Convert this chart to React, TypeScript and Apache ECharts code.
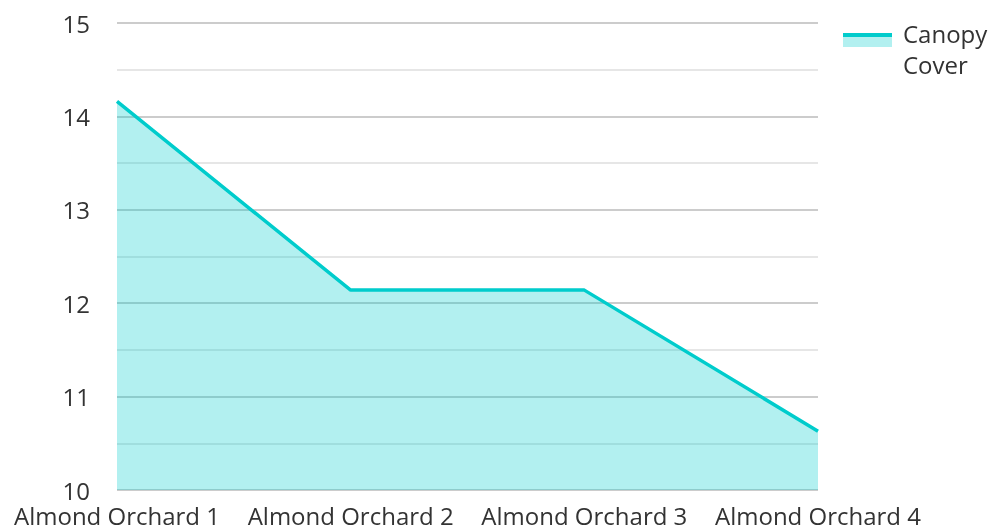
import React, { useEffect, useRef } from "react";
import * as echarts from "echarts";

const categories = ["Almond Orchard 1", "Almond Orchard 2", "Almond Orchard 3", "Almond Orchard 4"];
const canopyCover = [14.16, 12.14, 12.14, 10.63];
const seriesName = "Canopy Cover";
const legendLines = ["Canopy", "Cover"];

const FONT = "'Open Sans', sans-serif";
const TEXT = "#333333";
const LINE = "#00CCCC";
const FS = 24;

export default function App() {
  const ref = useRef<HTMLDivElement>(null);
  useEffect(() => {
    if (!ref.current) return;
    const chart = echarts.init(ref.current, undefined, { renderer: "svg" });
    chart.setOption({
      animation: false,
      textStyle: { fontFamily: FONT },
      grid: { left: 117, right: 174, top: 23, bottom: 41, containLabel: false },
      xAxis: {
        type: "category",
        data: categories,
        boundaryGap: false,
        axisLine: { show: false },
        axisTick: { show: false },
        axisLabel: { color: TEXT, fontSize: FS, fontFamily: FONT, margin: 13, interval: 0 },
      },
      yAxis: {
        type: "value",
        min: 10,
        max: 15,
        interval: 1,
        axisLine: { show: false },
        axisTick: { show: false },
        axisLabel: { color: TEXT, fontSize: FS, lineHeight: 22, fontFamily: FONT, margin: 27 },
        splitLine: { lineStyle: { color: "#cccccc", width: 2 } },
        minorTick: { show: false, splitNumber: 2 },
        minorSplitLine: { show: true, lineStyle: { color: "#e6e6e6", width: 2 } },
      },
      series: [
        {
          name: seriesName,
          type: "line",
          data: canopyCover,
          symbol: "none",
          lineStyle: { color: LINE, width: 3.5 },
          itemStyle: { color: LINE },
          areaStyle: { color: LINE, opacity: 0.3 },
        },
      ],
      graphic: [
        { type: "rect", left: 843, top: 33, shape: { width: 49, height: 14 }, style: { fill: LINE, opacity: 0.3 } },
        { type: "rect", left: 843, top: 33, shape: { width: 49, height: 4 }, style: { fill: LINE } },
        {
          type: "text",
          left: 903,
          top: 21,
          style: { text: legendLines[0], fill: TEXT, font: `${FS}px ${FONT}` },
        },
        {
          type: "text",
          left: 903,
          top: 52,
          style: { text: legendLines[1], fill: TEXT, font: `${FS}px ${FONT}` },
        },
      ],
    });
    return () => chart.dispose();
  }, []);
  return <div ref={ref} style={{ position: "fixed", left: 0, top: 0, width: 992, height: 531 }} />;
}
